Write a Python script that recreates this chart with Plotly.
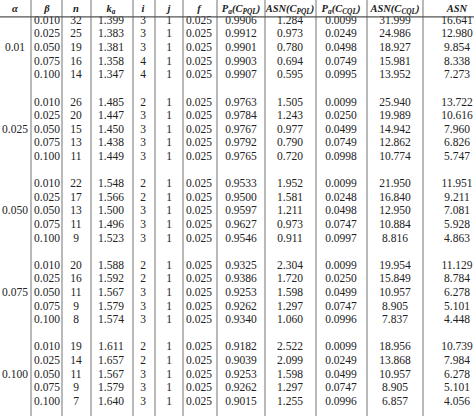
import plotly.graph_objects as go

alpha_levels = ["0.01", "0.025", "0.050", "0.075", "0.100"]
beta = ["0.010", "0.025", "0.050", "0.075", "0.100"]
n_vals = [[32, 25, 19, 16, 14], [26, 20, 15, 13, 11], [22, 17, 13, 11, 9],
          [20, 16, 11, 9, 8], [19, 14, 11, 9, 7]]
ka = [["1.399", "1.383", "1.381", "1.358", "1.347"],
      ["1.485", "1.447", "1.450", "1.438", "1.449"],
      ["1.548", "1.566", "1.500", "1.496", "1.523"],
      ["1.588", "1.592", "1.567", "1.579", "1.574"],
      ["1.611", "1.657", "1.567", "1.579", "1.640"]]
i_vals = [[3, 3, 3, 4, 4], [2, 3, 3, 3, 3], [2, 2, 3, 3, 3], [2, 2, 3, 3, 3], [2, 2, 3, 3, 3]]
j_val = "1"
f_val = "0.025"
pa_pql = [["0.9906", "0.9912", "0.9901", "0.9903", "0.9907"],
          ["0.9763", "0.9784", "0.9767", "0.9792", "0.9765"],
          ["0.9533", "0.9500", "0.9597", "0.9627", "0.9546"],
          ["0.9325", "0.9386", "0.9253", "0.9262", "0.9340"],
          ["0.9182", "0.9039", "0.9253", "0.9262", "0.9015"]]
asn_pql = [["1.284", "0.973", "0.780", "0.694", "0.595"],
           ["1.505", "1.243", "0.977", "0.790", "0.720"],
           ["1.952", "1.581", "1.211", "0.973", "0.911"],
           ["2.304", "1.720", "1.598", "1.297", "1.060"],
           ["2.522", "2.099", "1.598", "1.297", "1.255"]]
pa_cql = [["0.0099", "0.0249", "0.0498", "0.0749", "0.0995"],
          ["0.0099", "0.0250", "0.0499", "0.0749", "0.0998"],
          ["0.0099", "0.0248", "0.0498", "0.0747", "0.0997"],
          ["0.0099", "0.0250", "0.0499", "0.0747", "0.0996"],
          ["0.0099", "0.0249", "0.0499", "0.0747", "0.0996"]]
asn_cql = [["31.999", "24.986", "18.927", "15.981", "13.952"],
           ["25.940", "19.989", "14.942", "12.862", "10.774"],
           ["21.950", "16.840", "12.950", "10.884", "8.816"],
           ["19.954", "15.849", "10.957", "8.905", "7.837"],
           ["18.956", "13.868", "10.957", "8.905", "6.857"]]
asn = [["16.641", "12.980", "9.854", "8.338", "7.273"],
       ["13.722", "10.616", "7.960", "6.826", "5.747"],
       ["11.951", "9.211", "7.081", "5.928", "4.863"],
       ["11.129", "8.784", "6.278", "5.101", "4.448"],
       ["10.739", "7.984", "6.278", "5.101", "4.056"]]
headers = ["<b><i>α</i></b>", "<b><i>β</i></b>", "<b><i>n</i></b>", "<b><i>k<sub>a</sub></i></b>",
           "<b><i>i</i></b>", "<b><i>j</i></b>", "<b><i>f</i></b>",
           "<b><i>P<sub>a</sub>(C<sub>PQL</sub>)</i></b>", "<b><i>ASN(C<sub>PQL</sub>)</i></b>",
           "<b><i>P<sub>a</sub>(C<sub>CQL</sub>)</i></b>", "<b><i>ASN(C<sub>CQL</sub>)</i></b>",
           "<b><i>ASN</i></b>"]

# layout: column centres (pixels) and separators
col_x = [15, 47, 76, 111, 143, 169, 199, 241, 290, 341, 395, 457]
sep_x = [31, 62, 91, 133, 155, 183, 217, 265, 316, 367, 423]

fig = go.Figure()
hx, hy, ht = [], [], []
for h, x in zip(headers, col_x):
    hx.append(x); hy.append(-0.88); ht.append(h)
xs, ys, ts = [], [], []
for g in range(5):
    base = g * 6
    xs.append(col_x[0]); ys.append(base + 2); ts.append(alpha_levels[g])
    for r in range(5):
        row = base + r
        vals = [beta[r], str(n_vals[g][r]), ka[g][r], str(i_vals[g][r]), j_val, f_val,
                pa_pql[g][r], asn_pql[g][r], pa_cql[g][r], asn_cql[g][r], asn[g][r]]
        for v, x in zip(vals, col_x[1:]):
            xs.append(x); ys.append(row); ts.append(v)

fig.add_trace(go.Scatter(x=xs, y=ys, text=ts, mode="text", textposition="middle center",
                         textfont=dict(family="Liberation Serif", size=11.5, color="#222"),
                         hoverinfo="skip", showlegend=False))
fig.add_trace(go.Scatter(x=hx, y=hy, text=ht, mode="text", textposition="middle center",
                         textfont=dict(family="Liberation Serif", size=10.5, color="#222"),
                         hoverinfo="skip", showlegend=False))

shapes = []
for sx in sep_x:
    shapes.append(dict(type="line", xref="x", yref="y", x0=sx, x1=sx, y0=-1.6, y1=29.2,
                       line=dict(color="#8a8a8a", width=1.2)))
shapes.append(dict(type="line", xref="x", yref="y", x0=0, x1=474, y0=-0.3, y1=-0.3,
                   line=dict(color="#555", width=1.2)))
fig.update_layout(
    width=474, height=416, margin=dict(l=0, r=0, t=0, b=0),
    paper_bgcolor="white", plot_bgcolor="white", shapes=shapes,
    xaxis=dict(range=[0, 474], visible=False, fixedrange=True),
    yaxis=dict(range=[29.03, -1.543], visible=False, fixedrange=True),
)
fig.write_html("out.html", config={"displayModeBar": False},
               post_script="document.body.style.margin='0';document.body.style.overflow='hidden';")
